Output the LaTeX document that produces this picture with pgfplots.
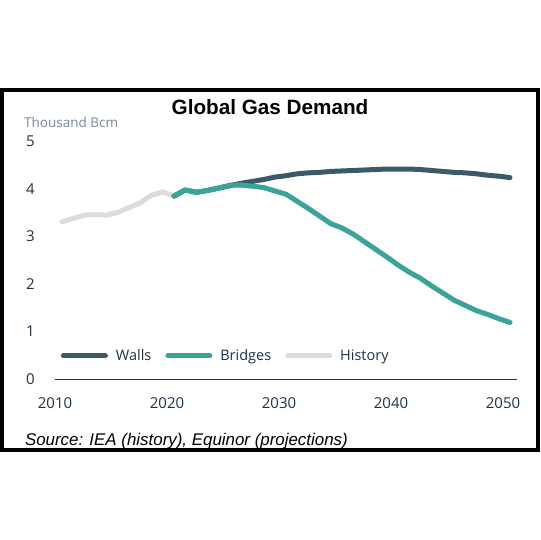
\documentclass[border=0pt]{standalone}
\usepackage{pgfplots}
\pgfplotsset{compat=1.18}
\usepackage{fontspec}
\setmainfont{Open Sans}
\newfontfamily\arialfont{Liberation Sans}
\definecolor{wallscol}{HTML}{3B5A68}
\definecolor{bridgescol}{HTML}{3AA39A}
\definecolor{historycol}{HTML}{DCDCDC}
\definecolor{txt}{HTML}{1C3347}
\definecolor{unitgrey}{HTML}{7B8794}
\begin{document}
\begin{tikzpicture}[x=1pt,y=1pt]
\path[use as bounding box] (0,0) rectangle (540,540);
\draw[line width=3.6pt] (1.8,90) rectangle (538.2,450);
\node[font=\arialfont\bfseries\fontsize{20.7}{24}\selectfont] at (270,433) {Global Gas Demand};
\node[anchor=west, inner sep=0pt, font=\fontsize{13.5}{16}\selectfont, text=unitgrey] at (24,418) {Thousand Bcm};
\node[anchor=west, inner sep=0pt, font=\arialfont\itshape\fontsize{16.9}{20}\selectfont] at (24.8,99) {Source: IEA (history), Equinor (projections)};
\begin{axis}[
  at={(54.72pt,161pt)}, anchor=south west,
  scale only axis, width=462.56pt, height=237.5pt,
  xmin=2009.35, xmax=2050.65, ymin=0, ymax=5,
  axis x line=bottom, axis y line=left,
  x axis line style={-, draw=txt, line width=0.9pt},
  y axis line style={draw=none},
  major tick length=0pt,
  xtick={2009.38,2019.38,2029.38,2039.38,2049.38},
  xticklabels={2010,2020,2030,2040,2050},
  ytick={0,1,2,3,4,5},
  /pgf/number format/assume math mode=true,
  xticklabel style={anchor=center, yshift=-24pt, font=\fontsize{15}{18}\selectfont, text=txt},
  yticklabel style={anchor=center, xshift=-24.2pt, font=\fontsize{15}{18}\selectfont, text=txt},
  clip=false,
  legend columns=3,
  legend style={at={(0.0129,0.097)}, anchor=west, draw=none, fill=none, inner sep=0pt,
    font=\fontsize{14.5}{17}\selectfont, text=txt,
    /tikz/every odd column/.append style={column sep=6pt},
    /tikz/every even column/.append style={column sep=12pt}},
  legend cell align=left,
  legend image code/.code={\draw[#1, line cap=round] (0pt,0pt) -- (42pt,0pt);},
]
\addlegendimage{draw=wallscol, line width=5pt}
\addlegendentry{Walls}
\addlegendimage{draw=bridgescol, line width=5pt}
\addlegendentry{Bridges}
\addlegendimage{draw=historycol, line width=5pt}
\addlegendentry{History}
\addplot[draw=historycol, line width=5pt, line cap=round, line join=round, forget plot] coordinates {
(2010,3.31) (2011,3.38) (2012,3.45) (2013,3.46) (2014,3.45) (2015,3.51) (2016,3.61)
(2017,3.71) (2018,3.87) (2019,3.94) (2020,3.85)};
\addplot[draw=wallscol, line width=5pt, line cap=round, line join=round, forget plot] coordinates {
(2020,3.85) (2021,3.98) (2022,3.93) (2023,3.97) (2024,4.02) (2025,4.07) (2026,4.12)
(2027,4.16) (2028,4.20) (2029,4.25) (2030,4.28) (2031,4.32) (2032,4.34) (2033,4.35)
(2034,4.37) (2035,4.38) (2036,4.39) (2037,4.40) (2038,4.41) (2039,4.42) (2040,4.42)
(2041,4.42) (2042,4.41) (2043,4.39) (2044,4.37) (2045,4.35) (2046,4.34) (2047,4.32)
(2048,4.29) (2049,4.27) (2050,4.24)};
\addplot[draw=bridgescol, line width=5pt, line cap=round, line join=round, forget plot] coordinates {
(2020,3.85) (2021,3.98) (2022,3.93) (2023,3.97) (2024,4.02) (2025,4.08) (2026,4.08)
(2027,4.06) (2028,4.03) (2029,3.96) (2030,3.89) (2031,3.74) (2032,3.59) (2033,3.43)
(2034,3.27) (2035,3.18) (2036,3.05) (2037,2.89) (2038,2.73) (2039,2.57) (2040,2.40)
(2041,2.25) (2042,2.12) (2043,1.96) (2044,1.81) (2045,1.66) (2046,1.55) (2047,1.44)
(2048,1.36) (2049,1.27) (2050,1.19)};
\end{axis}
\end{tikzpicture}
\end{document}
